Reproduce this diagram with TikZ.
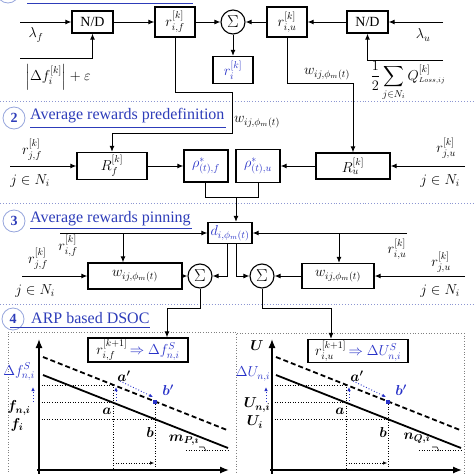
\documentclass[tikz,border=0pt]{standalone}
\usepackage{amsmath,bm}
\usepackage{fontspec}
\setmainfont{Liberation Serif}
\usetikzlibrary{arrows.meta,calc}
\definecolor{blueT}{RGB}{40,50,200}
\definecolor{hdrc}{RGB}{45,60,185}
\definecolor{numc}{RGB}{150,165,220}
\definecolor{sepc}{RGB}{140,150,210}
\begin{document}
\begin{tikzpicture}[x=1pt,y=-1pt,
  box/.style={draw,line width=1.3pt,inner sep=0pt,fill=white,font=\fontsize{14}{16}\selectfont},
  sig/.style={draw,circle,line width=1.1pt,minimum size=24pt,inner sep=0pt,font=\fontsize{16}{16}\selectfont},
  arr/.style={-{Latex[length=6pt,width=5pt]},line width=1pt},
  ln/.style={line width=1pt},
  sep/.style={dotted,color=sepc,line width=0.9pt},
  hdr/.style={text=hdrc,font=\fontsize{16}{17}\selectfont,anchor=west,inner sep=0pt},
  num/.style={circle,draw=numc,line width=0.8pt,minimum size=22pt,inner sep=0pt,text=hdrc,font=\bfseries\fontsize{14}{14}\selectfont},
  lab/.style={inner sep=0pt,font=\fontsize{14}{16}\selectfont},
  plab/.style={inner sep=0pt,font=\fontsize{14}{16}\selectfont},
  grid/.style={dotted,line width=0.6pt},
  bdot/.style={dotted,line width=0.9pt,blueT,-{Latex[length=4pt,width=3.5pt]}},
  font=\fontsize{14}{16}\selectfont]
\useasboundingbox (0,0) rectangle (474,474);
% ---------- separators ----------
\draw[sep] (0,101) -- (474,101);
\draw[sep] (0,203) -- (474,203);
\draw[sep] (0,304) -- (474,304);
% ---------- section 1 ----------
\node[num] (n1) at (8,-8) {};
\draw[hdrc,line width=0.7pt] (27,3) -- (193,3);
\node[box,minimum width=41pt,minimum height=22pt] (nd1) at (92.5,22) {N/D};
\node[box,minimum width=40pt,minimum height=30pt] (rf) at (175,22) {$r^{[k]}_{i,f}$};
\node[sig] (s0) at (233,22) {$\Sigma$};
\node[box,minimum width=40pt,minimum height=27pt,text=blueT] (ri) at (233,70) {$r^{[k]}_{i}$};
\node[box,minimum width=40pt,minimum height=30pt] (ru) at (287,22) {$r^{[k]}_{i,u}$};
\node[box,minimum width=41pt,minimum height=22pt] (nd2) at (367.5,22) {N/D};
\coordinate (i1a) at (20,22);
\coordinate (i1b) at (20,58);
\coordinate (i2a) at (443,22);
\coordinate (i2b) at (443,60);
\draw[arr] (i1a) -- (nd1);
\draw[arr] (i1b) -| (nd1.south);
\draw[arr] (nd1) -- (rf);
\draw[arr] (rf) -- (s0);
\draw[arr] (ru) -- (s0);
\draw[arr] (nd2) -- (ru);
\draw[arr] (i2a) -- (nd2);
\draw[arr] (i2b) -| (nd2.south);
\draw[arr] (s0) -- (ri);
\node[lab] (lf) at (36,35) {$\lambda_f$};
\node[lab] (df) at (58,77) {$\left|\Delta f_i^{[k]}\right|+\varepsilon$};
\node[lab] (lu) at (423,35) {$\lambda_u$};
\node[lab] (qs) at (408,81) {$\dfrac{1}{2}\displaystyle\sum_{j\in N_i} Q^{[k]}_{\scriptscriptstyle Loss,ij}$};
% ---------- section 2 ----------
\node[num] (n2) at (14,118) {2};
\node[hdr] (h2) at (30,116) {Average rewards predefinition};
\draw[hdrc,line width=0.7pt] (30,127) -- (226,127);
\node[box,minimum width=70pt,minimum height=27pt] (Rf) at (112,166) {$R^{[k]}_{f}$};
\node[box,minimum width=44pt,minimum height=32pt,text=blueT] (rhof) at (206,166) {$\rho^{*}_{(t),f}$};
\node[box,minimum width=44pt,minimum height=33pt,text=blueT] (rhou) at (258,166) {$\rho^{*}_{(t),u}$};
\node[box,minimum width=74pt,minimum height=26pt] (Ru) at (353,166) {$R^{[k]}_{u}$};
\coordinate (c1) at (232,92);
\coordinate (c2) at (232,133);
\coordinate (c3) at (353,83);
\draw[arr] (rf.south) |- (c1) -- (c2) -| (Rf.north);
\draw[arr] (ru.south) |- (c3) -- (Ru.north);
\node[lab] (w1l) at (257,122) {$w_{ij,\phi_m(t)}$};
\node[lab] (w2l) at (327,74) {$w_{ij,\phi_m(t)}$};
\coordinate (j2a) at (10,166);
\coordinate (j2b) at (465,166);
\draw[arr] (j2a) -- (Rf);
\draw[arr] (Rf) -- (rhof);
\draw[arr] (Ru) -- (rhou);
\draw[arr] (j2b) -- (Ru);
\node[lab] (l21) at (32,150) {$r^{[k]}_{j,f}$};
\node[lab] (l22) at (30,181) {$j\in N_i$};
\node[lab] (l23) at (446,148) {$r^{[k]}_{j,u}$};
\node[lab] (l24) at (440,181) {$j\in N_i$};
% ---------- section 3 ----------
\node[num] (n3) at (14,221) {3};
\node[hdr] (h3) at (30,219) {Average rewards pinning};
\draw[hdrc,line width=0.7pt] (30,228) -- (192,228);
\node[box,minimum width=44pt,minimum height=21pt,text=blueT] (d) at (230,233) {$d_{i,\phi_m(t)}$};
\coordinate (m1) at (205,197);
\coordinate (m2) at (258,197);
\coordinate (m3) at (236,197);
\draw[ln] (rhof.south -| m1) -- (m1) -- (m2) -- (rhou.south -| m2);
\draw[arr] (m3) -- (d.north -| m3);
\node[box,minimum width=94pt,minimum height=26pt] (w1) at (135,276) {$w_{ij,\phi_m(t)}$};
\node[sig] (s1) at (200,276) {$\Sigma$};
\node[sig] (s2) at (262,276) {$\Sigma$};
\node[box,minimum width=72pt,minimum height=25pt] (w2) at (338,276) {$w_{ij,\phi_m(t)}$};
\coordinate (p1) at (60,233);
\coordinate (p2) at (123,233);
\coordinate (p3) at (407,233);
\coordinate (p4) at (339,233);
\coordinate (q1) at (22,276);
\coordinate (q2) at (465,276);
\coordinate (dl) at (227,0);
\coordinate (dr) at (236,0);
\draw[arr] (p1) -- (d.west);
\draw[arr] (p2) -- (w1.north -| p2);
\draw[arr] (p3) -- (d.east);
\draw[arr] (p4) -- (w2.north -| p4);
\draw[arr] (q1) -- (w1);
\draw[arr] (w1) -- (s1);
\draw[arr] (q2) -- (w2);
\draw[arr] (w2) -- (s2);
\draw[arr] (d.south -| dl) |- (s1.east);
\draw[arr] (d.south -| dr) |- (s2.west);
\node[lab] (l31) at (68,246) {$r^{[k]}_{i,f}$};
\node[lab] (l32) at (38,259) {$r^{[k]}_{j,f}$};
\node[lab] (l33) at (35,291) {$j\in N_i$};
\node[lab] (l34) at (397,249) {$r^{[k]}_{i,u}$};
\node[lab] (l35) at (441,262) {$r^{[k]}_{j,u}$};
\node[lab] (l36) at (440,291) {$j\in N_i$};
% ---------- section 4 ----------
\node[num] (n4) at (13,319) {4};
\node[hdr] (h4) at (31,318) {ARP based DSOC};
\draw[hdrc,line width=0.7pt] (10,327) -- (150,327);
\draw[dotted,gray,line width=0.7pt] (8,480) -- (8,332) -- (236,332) -- (236,480);
\draw[dotted,gray,line width=0.7pt] (237,333) -- (464,333) -- (464,480);
\node[box,minimum width=100pt,minimum height=24pt] (bx1) at (138,350) {$r^{[k+1]}_{i,f}\textcolor{blueT}{\,\Rightarrow\Delta f^{S}_{n,i}}$};
\node[box,minimum width=100pt,minimum height=23pt] (bx2) at (358,351) {$r^{[k+1]}_{i,u}\textcolor{blueT}{\,\Rightarrow\Delta U^{S}_{n,i}}$};
\coordinate (t1) at (167,308);
\coordinate (t2) at (331,308);
\draw[arr] (s1.south) |- (t1) -- (bx1.north -| t1);
\draw[arr] (s2.south) |- (t2) -- (bx2.north -| t2);
\foreach \dx in {0,233}{
\begin{scope}[shift={(\dx,0)}]
  \draw[grid] (39,384.8) -- (113,384.8);
  \draw[grid] (39,402.6) -- (113,402.6);
  \draw[grid] (39,419.2) -- (155,419.2);
  \draw[grid] (113,384.8) -- (113,470);
  \draw[grid] (155,401.4) -- (155,470);
  \draw[grid,-{Latex[length=4pt,width=3.5pt]}] (113,463) -- (154,463);
  \draw[line width=1.3pt,-{Latex[length=9pt,width=7pt]}] (39,474) -- (39,339);
  \draw[line width=1.3pt,-{Latex[length=9pt,width=7pt]}] (37,470) -- (229,470);
  \draw[line width=1.8pt] (43,375) -- (228,448);
  \draw[line width=1.8pt,dash pattern=on 5pt off 3pt] (43,357) -- (227,430);
  \draw[bdot] (116,401) -- (116,387);
  \draw[bdot] (120,381) -- (153,397);
  \draw[bdot] (33,402) -- (33,387);
  \fill[blueT] (153,399.5) rectangle (157,403.5);
  \draw[grid] (186,450) -- (228,450);
  \draw[line width=0.6pt] (199,447) -- (204,447) -- (206,451);
  \node[plab] at (124,376) {$\bm{a'}$};
  \node[plab,text=blueT] at (168,390) {$\bm{b'}$};
  \node[plab] at (107,411) {$\bm{a}$};
  \node[plab] at (150,432) {$\bm{b}$};
\end{scope}}
\node[plab,text=blueT] (lab1) at (19,372) {$\Delta f^{S}_{n,i}$};
\node[plab] (lab2) at (19,408) {$\bm{f_{n,i}}$};
\node[plab] (lab3) at (17,425) {$\bm{f_{i}}$};
\node[plab] (lab4) at (184,440) {$\bm{m_{P,i}}$};
\node[plab] (lab5) at (257,346) {$\bm{U}$};
\node[plab,text=blueT] (lab6) at (253,374) {$\Delta U_{n,i}$};
\node[plab] (lab7) at (257,405) {$\bm{U_{n,i}}$};
\node[plab] (lab8) at (255,422) {$\bm{U_{i}}$};
\node[plab] (lab9) at (417,438) {$\bm{n_{Q,i}}$};
\end{tikzpicture}
\end{document}
